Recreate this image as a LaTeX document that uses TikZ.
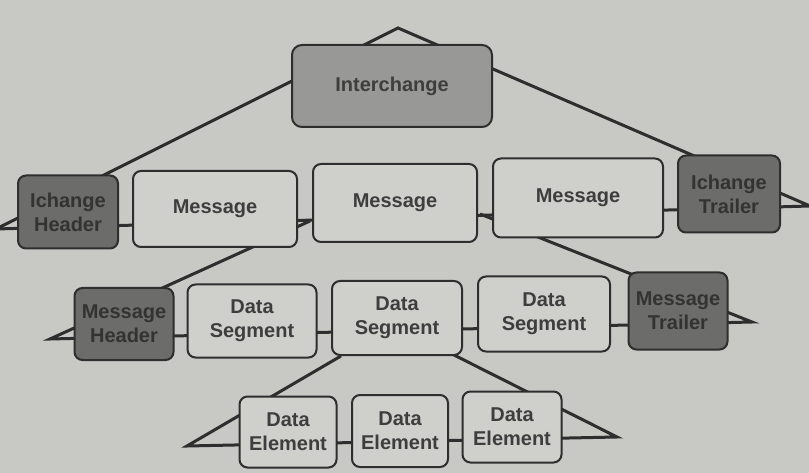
\documentclass[tikz,border=0pt]{standalone}
\usepackage{fontspec}
\setmainfont{Liberation Sans}
\definecolor{bgc}{HTML}{C8C8C5}
\definecolor{lightc}{HTML}{CFCFCC}
\definecolor{midc}{HTML}{989896}
\definecolor{darkc}{HTML}{6C6C6B}
\definecolor{linec}{HTML}{2E2E2E}
\definecolor{txtc}{HTML}{3E3E3E}
\begin{document}
\begin{tikzpicture}[x=1pt,y=-1pt,
  conn/.style={draw=linec, line width=3pt, line join=miter},
  boxbase/.style={draw=linec, line width=2pt, rounded corners=8pt, inner sep=0pt,
    align=center, text=txtc, font=\bfseries\fontsize{20}{24}\selectfont},
  lbox/.style={boxbase, fill=lightc},
  mbox/.style={boxbase, fill=midc, rounded corners=10pt},
  dbox/.style={boxbase, fill=darkc, text=black!80}]
\fill[bgc] (0,0) rectangle (809,473);
\useasboundingbox (0,0) rectangle (809,473);
\clip (0,0) rectangle (809,473);

% corner coordinates of the fans
\coordinate (apex) at (398,28);
\coordinate (l1left) at (-4,229);
\coordinate (l1right) at (810,206);
\coordinate (l2topleft) at (310,221);
\coordinate (l2topright) at (480,214);
\coordinate (l2left) at (50,339);
\coordinate (l2right) at (752,322);
\coordinate (l3topleft) at (341,356);
\coordinate (l3topright) at (454,355);
\coordinate (l3left) at (187,446);
\coordinate (l3right) at (617,437);

% fans (drawn below the boxes)
\draw[conn] (l1left) -- (apex) -- (l1right) -- cycle;
\draw[conn] (l2topleft) -- (l2left) -- (l2right) -- (l2topright);
\draw[conn] (l3topleft) -- (l3left) -- (l3right) -- (l3topright);

% top
\node[mbox, minimum width=200pt, minimum height=82pt] (inter) at (392,86) {Interchange};

% level 1
\node[dbox, minimum width=100pt, minimum height=73pt] (ihdr) at (68,212) {Ichange\\Header};
\node[lbox, minimum width=164pt, minimum height=76pt] (msga) at (215,209) {Message};
\node[lbox, minimum width=164pt, minimum height=78pt] (msgb) at (395,203) {Message};
\node[lbox, minimum width=170pt, minimum height=79pt] (msgc) at (578,198) {Message};
\node[dbox, minimum width=102pt, minimum height=77pt] (itrl) at (729,194) {Ichange\\Trailer};

% level 2
\node[dbox, minimum width=99pt, minimum height=72pt] (mhdr) at (124,324) {Message\\Header};
\node[lbox, minimum width=129pt, minimum height=73pt] (dsa) at (252,321) {Data\\Segment};
\node[lbox, minimum width=130pt, minimum height=74pt] (dsb) at (397,318) {Data\\Segment};
\node[lbox, minimum width=132pt, minimum height=75pt] (dsc) at (544,314) {Data\\Segment};
\node[dbox, minimum width=99pt, minimum height=77pt] (mtrl) at (678,311) {Message\\Trailer};

% level 3
\node[lbox, minimum width=97pt, minimum height=71pt] (dea) at (288,432) {Data\\Element};
\node[lbox, minimum width=96pt, minimum height=72pt] (deb) at (400,431) {Data\\Element};
\node[lbox, minimum width=99pt, minimum height=71pt] (dec) at (512,427) {Data\\Element};
\end{tikzpicture}
\end{document}
